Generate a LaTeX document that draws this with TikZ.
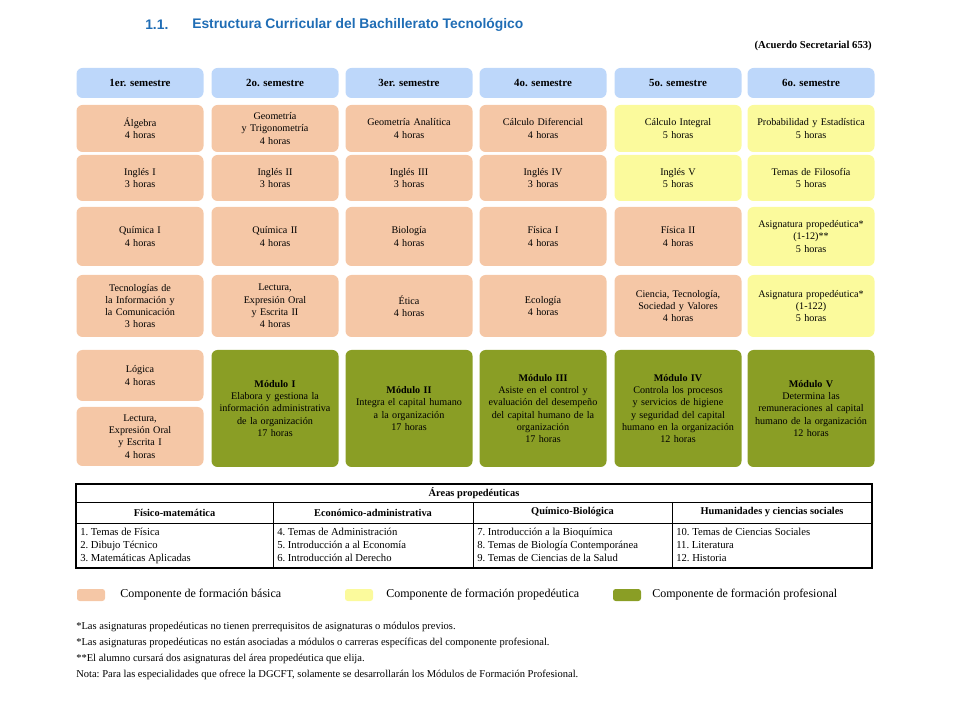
\documentclass[tikz,border=0pt]{standalone}
\usepackage{fontspec}
\setmainfont{Liberation Serif}
\newfontfamily\sansf{Liberation Sans}
\definecolor{peach}{HTML}{F5C7A6}
\definecolor{yel}{HTML}{FBFA9C}
\definecolor{grn}{HTML}{8A9E25}
\definecolor{hdr}{HTML}{BDD7FA}
\definecolor{ttl}{HTML}{1F6DB5}
\begin{document}
\frenchspacing
\begin{tikzpicture}[x=0.75pt,y=-0.75pt,
  box/.style={rounded corners=4.5pt,draw=none,align=center,font=\fontsize{7.6}{9.2}\selectfont,inner sep=1pt,text width=120*0.75pt},
  hd/.style={box,fill=hdr,font=\fontsize{8.2}{10}\selectfont\bfseries},
  pb/.style={box,fill=peach},
  yb/.style={box,fill=yel},
  gb/.style={box,fill=grn},
  tt/.style={font=\fontsize{7.6}{9.2}\selectfont,inner sep=0pt},
  lst/.style={inner sep=0pt,align=left,anchor=north west,font=\fontsize{8}{9.75}\selectfont},
  sw/.style={draw=none,rounded corners=2pt,minimum width=21pt,minimum height=9pt,inner sep=0pt}]
\useasboundingbox (0,0) rectangle (960,705);
\node[font=\sansf\bfseries\fontsize{10.4}{12}\selectfont,text=ttl,anchor=west,inner sep=0pt] (t1) at (145,25) {1.1.};
\node[font=\sansf\bfseries\fontsize{10.4}{12}\selectfont,text=ttl,anchor=west,inner sep=0pt] (t2) at (192,25) {Estructura Curricular del Bachillerato Tecnológico};
\node[font=\fontsize{8}{10}\selectfont\bfseries,anchor=east,inner sep=0pt] (ac) at (872,46) {(Acuerdo Secretarial 653)};
\def\W{127}
\newcommand{\bx}[6]{\node[#1,minimum width=\W*0.75pt,minimum height=#4*0.75pt] (#2) at (#3,#5) {#6};}
% headers
\bx{hd}{h1}{140}{30}{83}{1er. semestre}
\bx{hd}{h2}{275}{30}{83}{2o. semestre}
\bx{hd}{h3}{409}{30}{83}{3er. semestre}
\bx{hd}{h4}{543}{30}{83}{4o. semestre}
\bx{hd}{h5}{678}{30}{83}{5o. semestre}
\bx{hd}{h6}{811}{30}{83}{6o. semestre}
% row1
\bx{pb}{a1}{140}{47}{128.5}{Álgebra\\4 horas}
\bx{pb}{a2}{275}{47}{128.5}{Geometría\\y Trigonometría\\4 horas}
\bx{pb}{a3}{409}{47}{128.5}{Geometría Analítica\\4 horas}
\bx{pb}{a4}{543}{47}{128.5}{Cálculo Diferencial\\4 horas}
\bx{yb}{a5}{678}{47}{128.5}{Cálculo Integral\\5 horas}
\bx{yb}{a6}{811}{47}{128.5}{Probabilidad y Estadística\\5 horas}
% row2
\bx{pb}{b1}{140}{46}{178}{Inglés I\\3 horas}
\bx{pb}{b2}{275}{46}{178}{Inglés II\\3 horas}
\bx{pb}{b3}{409}{46}{178}{Inglés III\\3 horas}
\bx{pb}{b4}{543}{46}{178}{Inglés IV\\3 horas}
\bx{yb}{b5}{678}{46}{178}{Inglés V\\5 horas}
\bx{yb}{b6}{811}{46}{178}{Temas de Filosofía\\5 horas}
% row3
\bx{pb}{r1}{140}{59}{236.5}{Química I\\4 horas}
\bx{pb}{r2}{275}{59}{236.5}{Química II\\4 horas}
\bx{pb}{r3}{409}{59}{236.5}{Biología\\4 horas}
\bx{pb}{r4}{543}{59}{236.5}{Física I\\4 horas}
\bx{pb}{r5}{678}{59}{236.5}{Física II\\4 horas}
\bx{yb}{r6}{811}{59}{236.5}{Asignatura propedéutica*\\(1-12)**\\5 horas}
% row4
\bx{pb}{d1}{140}{62}{306}{Tecnologías de\\la Información y\\la Comunicación\\3 horas}
\bx{pb}{d2}{275}{62}{306}{Lectura,\\Expresión Oral\\y Escrita II\\4 horas}
\bx{pb}{d3}{409}{62}{306}{Ética\\4 horas}
\bx{pb}{d4}{543}{62}{306}{Ecología\\4 horas}
\bx{pb}{d5}{678}{62}{306}{Ciencia, Tecnología,\\Sociedad y Valores\\4 horas}
\bx{yb}{d6}{811}{62}{306}{Asignatura propedéutica*\\(1-122)\\5 horas}
% row5
\bx{pb}{e1}{140}{51}{375.5}{Lógica\\4 horas}
\bx{pb}{f1}{140}{59}{436.5}{Lectura,\\Expresión Oral\\y Escrita I\\4 horas}
\bx{gb}{m1}{275}{117}{408.5}{\textbf{Módulo I}\\Elabora y gestiona la\\información administrativa\\de la organización\\17 horas}
\bx{gb}{m2}{409}{117}{408.5}{\textbf{Módulo II}\\Integra el capital humano\\a la organización\\17 horas}
\bx{gb}{m3}{543}{117}{408.5}{\textbf{Módulo III}\\Asiste en el control y\\evaluación del desempeño\\del capital humano de la\\organización\\17 horas}
\bx{gb}{m4}{678}{117}{408.5}{\textbf{Módulo IV}\\Controla los procesos\\y servicios de higiene\\y seguridad del capital\\humano en la organización\\12 horas}
\bx{gb}{m5}{811}{117}{408.5}{\textbf{Módulo V}\\Determina las\\remuneraciones al capital\\humano de la organización\\12 horas}
% table
\draw[line width=0.9pt] (76,484) rectangle (872,568);
\draw[line width=0.7pt] (76,502) -- (872,502) (76,523) -- (872,523);
\draw[line width=0.7pt] (273,502) -- (273,568) (473,502) -- (473,568) (672,502) -- (672,568);
\node[tt,font=\fontsize{7.8}{9.2}\selectfont\bfseries] (ap) at (474,493) {Áreas propedéuticas};
\node[tt,font=\fontsize{7.8}{9.2}\selectfont\bfseries] (k1) at (174.5,512.5) {Físico-matemática};
\node[tt,font=\fontsize{7.8}{9.2}\selectfont\bfseries] (k2) at (373,512.5) {Económico-administrativa};
\node[tt,font=\fontsize{7.8}{9.2}\selectfont\bfseries] (k3) at (572.5,512.5) {Químico-Biológica};
\node[tt,font=\fontsize{7.8}{9.2}\selectfont\bfseries] (k4) at (772,512.5) {Humanidades y ciencias sociales};
\node[lst] (l1) at (80,528) {1. Temas de Física\\2. Dibujo Técnico\\3. Matemáticas Aplicadas};
\node[lst] (l2) at (277,528) {4. Temas de Administración\\5. Introducción a al Economía\\6. Introducción al Derecho};
\node[lst] (l3) at (477,528) {7. Introducción a la Bioquímica\\8. Temas de Biología Contemporánea\\9. Temas de Ciencias de la Salud};
\node[lst] (l4) at (676,528) {10. Temas de Ciencias Sociales\\11. Literatura\\12. Historia};
% legend
\node[sw,fill=peach] (s1) at (91,595) {};
\node[sw,fill=yel] (s2) at (359,595) {};
\node[sw,fill=grn] (s3) at (627,595) {};
\node[tt,anchor=west,font=\fontsize{9}{10}\selectfont] (g1) at (120,595) {Componente de formación básica};
\node[tt,anchor=west,font=\fontsize{9}{10}\selectfont] (g2) at (386,595) {Componente de formación propedéutica};
\node[tt,anchor=west,font=\fontsize{9}{10}\selectfont] (g3) at (652,595) {Componente de formación profesional};
% notes
\node[tt,anchor=west,font=\fontsize{7.9}{9}\selectfont] (n1) at (76,627) {*Las asignaturas propedéuticas no tienen prerrequisitos de asignaturas o módulos previos.};
\node[tt,anchor=west,font=\fontsize{7.9}{9}\selectfont] (n2) at (76,643) {*Las asignaturas propedéuticas no están asociadas a módulos o carreras específicas del componente profesional.};
\node[tt,anchor=west,font=\fontsize{7.9}{9}\selectfont] (n3) at (76,659) {**El alumno cursará dos asignaturas del área propedéutica que elija.};
\node[tt,anchor=west,font=\fontsize{7.9}{9}\selectfont] (n4) at (76,675) {Nota: Para las especialidades que ofrece la DGCFT, solamente se desarrollarán los Módulos de Formación Profesional.};
\end{tikzpicture}
\end{document}
